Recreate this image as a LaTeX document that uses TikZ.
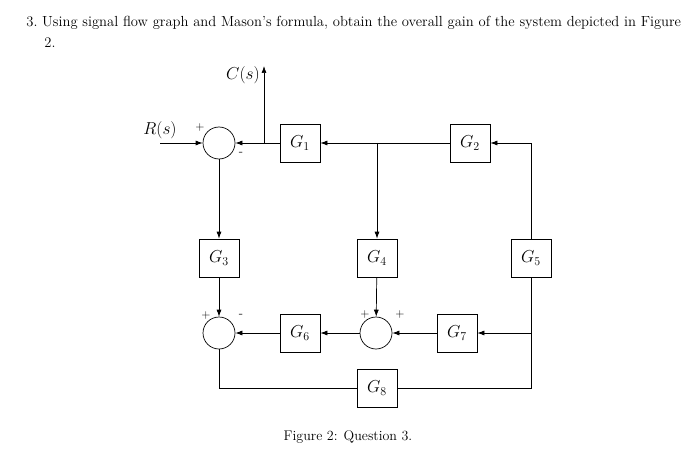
\documentclass[tikz,border=0pt]{standalone}
\usetikzlibrary{arrows.meta}
\begin{document}
\begin{tikzpicture}[x=1pt,y=-1pt,
  blk/.style={draw, minimum width=40pt, minimum height=38pt, inner sep=0pt, font=\fontsize{18}{20}\selectfont},
  sum/.style={draw, circle, minimum size=32pt, inner sep=0pt},
  arr/.style={-{Latex[length=7pt,width=5pt]}},
  sg/.style={font=\fontsize{13}{14}\selectfont},
  every path/.style={line width=0.7pt}]
\useasboundingbox (0,0) rectangle (700,457);
\node[anchor=west, inner sep=0pt, font=\fontsize{14.6}{17}\selectfont] (t1) at (26,23) {3.\ Using signal flow graph and Mason's formula, obtain the overall gain of the system depicted in Figure};
\node[anchor=west, inner sep=0pt, font=\fontsize{14.6}{17}\selectfont] (t2) at (44,43) {2.};
\node[sum] (s1) at (219,143) {};
\node[sum] (s2) at (219,333) {};
\node[sum] (s3) at (376,333) {};
\node[blk] (g1) at (300,143) {$G_1$};
\node[blk] (g2) at (470,143) {$G_2$};
\node[blk] (g3) at (219,258) {$G_3$};
\node[blk] (g4) at (377,258) {$G_4$};
\node[blk] (g5) at (531,258) {$G_5$};
\node[blk] (g6) at (300,333) {$G_6$};
\node[blk] (g7) at (457,333) {$G_7$};
\node[blk] (g8) at (377,388) {$G_8$};
\node[font=\fontsize{16}{18}\selectfont] (r) at (160,130) {$R(s)$};
\node[font=\fontsize{16}{18}\selectfont] (c) at (243,75) {$C(s)$};
\coordinate (rin) at (160,143);
\coordinate (cb) at (264,143);
\coordinate (ct) at (264,66);
\coordinate (b4) at (377,143);
\coordinate (rt) at (531,143);
\coordinate (rm) at (531,333);
\coordinate (rb) at (531,388);
\coordinate (lb) at (219,388);
\draw[arr] (rin) -- (s1);
\draw[arr] (g1) -- (s1);
\draw[arr] (cb) -- (ct);
\draw[arr] (g2) -- (g1);
\draw[arr] (b4) -- (g4);
\draw[arr] (s1) -- (g3);
\draw[arr] (g3) -- (s2);
\draw[arr] (g4) -- (s3);
\draw[arr] (s3) -- (g6);
\draw[arr] (g6) -- (s2);
\draw[arr] (g7) -- (s3);
\draw[arr] (rm) -- (g7);
\draw (rm) -- (g5);
\draw[arr] (g5) -- (rt) -- (g2);
\draw (rm) -- (rb) -- (g8) -- (lb) -- (s2);
\node[sg] (p1) at (200,128) {$+$};
\node[sg] (m1) at (241,154) {-};
\node[sg] (p2) at (206,315) {$+$};
\node[sg] (m2) at (241,316) {-};
\node[sg] (p3) at (365,314) {$+$};
\node[sg] (p4) at (400,314) {$+$};
\node[font=\fontsize{14}{16}\selectfont] (cap) at (348,437) {Figure 2: Question 3.};
\end{tikzpicture}
\end{document}
